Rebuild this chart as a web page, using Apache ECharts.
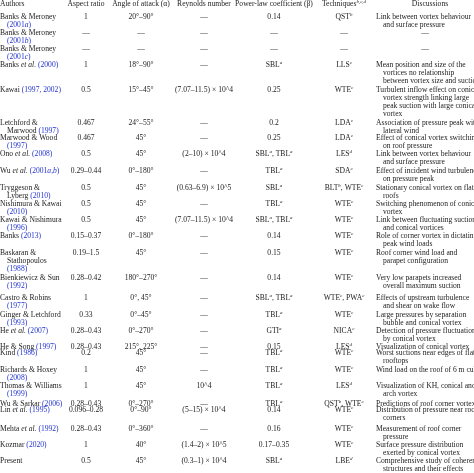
<!DOCTYPE html>
<html>
<head>
<meta charset="utf-8">
<script src="https://cdn.jsdelivr.net/npm/echarts@6/dist/echarts.min.js"></script>
<style>html,body{margin:0;background:#fff}#main{width:474px;height:473px}</style>
</head>
<body>
<div id="main"></div>
<script>
// table content
let headers = ['Authors', 'Aspect ratio', 'Angle of attack (α)', 'Reynolds number', 'Power-law coefficient (β)', 'Techniques^b,c,d', 'Discussions'];
let rowY = [17,33,49,65,90,123,138,154,171,188,204,220,236,253,278,298,315,331,347,353,370,386,404,410,429,445,461];
let authors = [
  ['Banks & Meroney','(2001a)'],['Banks & Meroney','(2001b)'],['Banks & Meroney','(2001c)'],
  ['Banks et al. (2000)'],['Kawai (1997, 2002)'],['Letchford &','Marwood (1997)'],['Marwood & Wood','(1997)'],
  ['Ono et al. (2008)'],['Wu et al. (2001a,b)'],['Tryggeson &','Lyberg (2010)'],['Nishimura & Kawai','(2010)'],
  ['Kawai & Nishimura','(1996)'],['Banks (2013)'],['Baskaran &','Stathopoulos','(1988)'],['Bienkiewicz & Sun','(1992)'],
  ['Castro & Robins','(1977)'],['Ginger & Letchford','(1993)'],['He et al. (2007)'],['He & Song (1997)'],['Kind (1986)'],
  ['Richards & Hoxey','(2008)'],['Thomas & Williams','(1999)'],['Wu & Sarkar (2006)'],['Lin et al. (1995)'],
  ['Mehta et al. (1992)'],['Kozmar (2020)'],['Present']
];
let aspect = ['1','—','—','1','0.5','0.467','0.467','0.5','0.29–0.44','0.5','0.5','0.5','0.15–0.37','0.19–1.5','0.28–0.42','1','0.33','0.28–0.43','0.28–0.43','0.2','1','1','0.28–0.43','0.096–0.28','0.28–0.43','1','0.5'];
let angle = ['20°–90°','—','—','18°–90°','15°–45°','24°–55°','45°','45°','0°–180°','45°','45°','45°','0°–180°','45°','180°–270°','0°, 45°','0°–45°','0°–270°','215°, 225°','45°','45°','45°','0°–270°','0°–90°','0°–360°','40°','45°'];
let reynolds = ['—','—','—','—','(7.07–11.5) × 10^4','—','—','(2–10) × 10^4','—','(0.63–6.9) × 10^5','—','(7.07–11.5) × 10^4','—','—','—','—','—','—','—','—','—','10^4','—','(5–15) × 10^4','—','(1.4–2) × 10^5','(0.3–1) × 10^4'];
let power = ['0.14','—','—','SBL^a','0.25','0.2','0.25','SBL^a, TBL^a','TBL^a','SBL^a','TBL^a','SBL^a, TBL^a','0.14','0.15','0.14','SBL^a, TBL^a','TBL^a','GTI^a','0.15','TBL^a','TBL^a','TBL^a','TBL^a','0.14','0.16','0.17–0.35','SBL^a'];
let techniques = ['QST^b','—','—','LLS^c','WTE^c','LDA^c','LDA^c','LES^d','SDA^c','BLT^b, WTE^c','WTE^c','WTE^c','WTE^c','WTE^c','WTE^c','WTE^c, PWA^c','WTE^c','NICA^c','LES^d','WTE^c','WTE^c','LES^d','QST^b, WTE^c','WTE^c','WTE^c','WTE^c','LBE^d'];
let discussions = [
  ['Link between vortex behaviour','and surface pressure'],['—'],['—'],
  ['Mean position and size of the','vortices no relationship','between vortex size and suction'],
  ['Turbulent inflow effect on conical','vortex strength linking large','peak suction with large conical','vortex'],
  ['Association of pressure peak with','lateral wind'],['Effect of conical vortex switching','on roof pressure'],
  ['Link between vortex behaviour','and surface pressure'],['Effect of incident wind turbulence','on pressure peak'],
  ['Stationary conical vortex on flat','roofs'],['Switching phenomenon of conical','vortex'],
  ['Link between fluctuating suction','and conical vortices'],['Role of corner vortex in dictating','peak wind loads'],
  ['Roof corner wind load and','parapet configuration'],['Very low parapets increased','overall maximum suction'],
  ['Effects of upstream turbulence','and shear on wake flow'],['Large pressures by separation','bubble and conical vortex'],
  ['Detection of pressure fluctuation','by conical vortex'],['Visualization of conical vortex'],
  ['Worst suctions near edges of flat','rooftops'],['Wind load on the roof of 6 m cube'],
  ['Visualization of KH, conical and','arch vortex'],['Predictions of roof corner vortex'],
  ['Distribution of pressure near roof','corners'],['Measurement of roof corner','pressure'],
  ['Surface pressure distribution','exerted by conical vortex'],['Comprehensive study of coherent','structures and their effects']
];

let colX = [0, 86, 141, 204, 274, 344];
let discX = 376, lineH = 8;
let FONT = 'Liberation Serif';
let rich = {
  n: {fontFamily: FONT, fontSize: 7.6, fill: '#222', lineHeight: 9},
  i: {fontFamily: FONT, fontSize: 7.6, fill: '#222', fontStyle: 'italic', lineHeight: 9},
  y: {fontFamily: FONT, fontSize: 7.6, fill: '#2233cc', lineHeight: 9},
  yi: {fontFamily: FONT, fontSize: 7.6, fill: '#2233cc', fontStyle: 'italic', lineHeight: 9},
  si: {fontFamily: FONT, fontSize: 5, fill: '#222', fontStyle: 'italic', verticalAlign: 'top', lineHeight: 9}
};
// superscripts written as ^x or ^x,y,z
function supText(t){
  return t.split(/(\^[a-d](?:,[a-d])*)/).filter(p => p).map(p =>
    p[0] === '^' ? '{si|' + p.slice(1) + '}' : '{n|' + p + '}').join('');
}
// author line: blue year in brackets, italic "et al." and letter suffixes
function authorText(t){
  return t.split(/(\([^)]*\)|et al\.)/).filter(p => p).map(p => {
    if (p === 'et al.') return '{i|et al.}';
    if (p[0] === '(') return p.split(/([a-c](?=[,)]))/).filter(q => q).map(q =>
      /^[a-c]$/.test(q) ? '{yi|' + q + '}' : '{y|' + q + '}').join('');
    return '{n|' + p + '}';
  }).join('');
}
function txt(str, x, y, align){
  return {type: 'text', x: x, y: y, silent: true,
    style: {text: str, rich: rich, align: align, verticalAlign: 'middle'}};
}

let els = [];
headers.forEach((h, k) => {
  if (k === 0) els.push(txt(supText(h), 0, 4, 'left'));
  else if (k === 6) els.push(txt(supText(h), 430, 4, 'center'));
  else els.push(txt(supText(h), colX[k], 4, 'center'));
});
rowY.forEach((y, r) => {
  authors[r].forEach((l, j) => els.push(txt(authorText(l), j ? 7 : 0, y + j * lineH, 'left')));
  [aspect, angle, reynolds, power, techniques].forEach((col, k) =>
    els.push(txt(supText(col[r]), colX[k + 1], y, 'center')));
  discussions[r].forEach((l, j) => {
    if (l === '—') els.push(txt(supText(l), 425, y, 'center'));
    else els.push(txt(supText(l), j ? discX + 7 : discX, y + j * lineH, 'left'));
  });
});

let chart = echarts.init(document.getElementById('main'), null, {renderer: 'canvas'});
chart.setOption({animation: false, graphic: {elements: els}});
</script>
</body>
</html>
